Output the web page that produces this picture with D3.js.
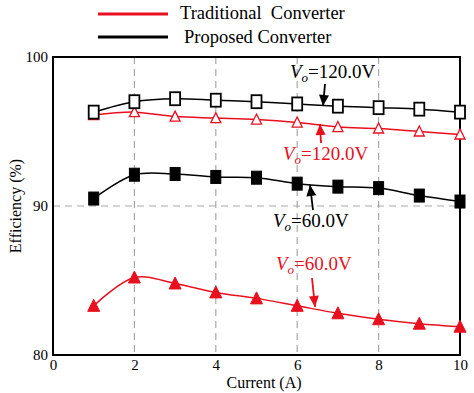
<!DOCTYPE html>
<html><head><meta charset="utf-8">
<script src="https://cdn.jsdelivr.net/npm/d3@7"></script>
<style>body{margin:0;background:#fff}svg{display:block}text{font-family:"Liberation Serif","Times New Roman",serif}</style>
</head><body><svg id="c" width="474" height="393"></svg>
<script>
const current = [1,2,3,4,5,6,7,8,9,10];
const proposed120 = [96.3,97.0,97.2,97.1,97.0,96.85,96.7,96.6,96.5,96.3];
const traditional120 = [96.1,96.3,96.0,95.9,95.8,95.6,95.3,95.2,95.0,94.8];
const proposed60 = [90.5,92.1,92.15,91.95,91.9,91.5,91.3,91.2,90.7,90.3];
const traditional60 = [83.3,85.2,84.8,84.2,83.8,83.3,82.8,82.4,82.1,81.9];
const xTicks = [0,2,4,6,8,10];
const yTicks = [80,90,100];
const legendLabels = ["Traditional  Converter","Proposed Converter"];

const svg = d3.select("#c");
const L=53,R=460,T=57,B=355;
const x = d3.scaleLinear().domain([0,10]).range([L,R]);
const y = d3.scaleLinear().domain([80,100]).range([B,T]);
const RED="#e8101e";

// grid
const g = svg.append("g");
[2,4,6,8].forEach(v=>g.append("line").attr("x1",x(v)).attr("x2",x(v)).attr("y1",T).attr("y2",B)
  .attr("stroke","#a8a8a8").attr("stroke-width",1.2).attr("stroke-dasharray","7,5"));
g.append("line").attr("x1",L).attr("x2",R).attr("y1",y(90)).attr("y2",y(90))
  .attr("stroke","#a8a8a8").attr("stroke-width",1.2).attr("stroke-dasharray","7,5");

// axes (tick labels only)
const xa = svg.append("g").attr("transform",`translate(0,${B})`).call(d3.axisBottom(x).tickValues(xTicks).tickSize(0).tickPadding(4));
xa.select(".domain").remove();
xa.selectAll("text").attr("font-size",15).attr("font-family","Liberation Serif").attr("fill","#000").attr("dy","0.71em");
const ya = svg.append("g").attr("transform",`translate(${L},0)`).call(d3.axisLeft(y).tickValues(yTicks).tickSize(0).tickPadding(5));
ya.select(".domain").remove();
ya.selectAll("text").attr("font-size",15).attr("font-family","Liberation Serif").attr("fill","#000");

// frame
svg.append("rect").attr("x",L).attr("y",T).attr("width",R-L).attr("height",B-T)
  .attr("fill","none").attr("stroke","#000").attr("stroke-width",2);

const line = d3.line().x((d,i)=>x(current[i])).y(d=>y(d)).curve(d3.curveCatmullRom.alpha(0.5));
function series(vals,color,marker,filled){
  svg.append("path").attr("d",line(vals)).attr("fill","none").attr("stroke",color).attr("stroke-width",1.5);
  const m = svg.append("g");
  vals.forEach((v,i)=>{
    const cx=x(current[i]), cy=y(v);
    if(marker==="sq"){
      m.append("rect").attr("x",cx-5).attr("y",cy-6.5).attr("width",10).attr("height",13)
        .attr("fill",filled?color:"#fff").attr("stroke",color).attr("stroke-width",filled?1:1.8);
    } else {
      const h=filled?11:9, w=filled?12:10;
      m.append("path").attr("d",`M${cx},${cy-h/2-1}L${cx+w/2},${cy+h/2}L${cx-w/2},${cy+h/2}Z`)
        .attr("fill",filled?color:"#fff").attr("stroke",color).attr("stroke-width",filled?1:1.3);
    }
  });
}
series(traditional120,RED,"tri",false);
series(proposed120,"#000","sq",false);
series(proposed60,"#000","sq",true);
series(traditional60,RED,"tri",true);

// annotations
function arrow(x1,y1,x2,y2,color){
  svg.append("line").attr("x1",x1).attr("y1",y1).attr("x2",x2).attr("y2",y2).attr("stroke",color).attr("stroke-width",1.8);
  const a=Math.atan2(y2-y1,x2-x1), len=11, w=5;
  const bx=x2-len*Math.cos(a), by=y2-len*Math.sin(a);
  const px=-Math.sin(a)*w, py=Math.cos(a)*w;
  svg.append("path").attr("d",`M${x2},${y2}L${bx+px},${by+py}L${bx-px},${by-py}Z`).attr("fill",color);
}
function vlabel(xp,yp,val,color){
  const t=svg.append("text").attr("x",xp).attr("y",yp).attr("font-size",19).attr("fill",color);
  t.append("tspan").attr("font-style","italic").text("V");
  t.append("tspan").attr("font-style","italic").attr("font-size",13).attr("dy",4).text("o");
  t.append("tspan").attr("dy",-4).text("="+val);
}
vlabel(290,78,"120.0V","#000"); arrow(325,84,323,106,"#000");
vlabel(283,160,"120.0V",RED); arrow(321,143,320,124,RED);
vlabel(273,227,"60.0V","#000"); arrow(313,210,310,185,"#000");
vlabel(276,270,"60.0V",RED); arrow(312,278,315,307,RED);

// axis titles
svg.append("text").attr("x",264).attr("y",388).attr("text-anchor","middle").attr("font-size",16).text("Current (A)");
svg.append("text").attr("transform","translate(21,206) rotate(-90)").attr("text-anchor","middle").attr("font-size",16).text("Efficiency (%)");

// legend
const lc=[RED,"#000"], ly=[14,37], ty=[19,43], tx=[180,184];
legendLabels.forEach((s,i)=>{
  svg.append("line").attr("x1",98).attr("x2",168).attr("y1",ly[i]).attr("y2",ly[i]).attr("stroke",lc[i]).attr("stroke-width",3);
  svg.append("text").attr("x",tx[i]).attr("y",ty[i]).attr("font-size",18.5).attr("xml:space","preserve").style("white-space","pre").text(s);
});
</script></body></html>
